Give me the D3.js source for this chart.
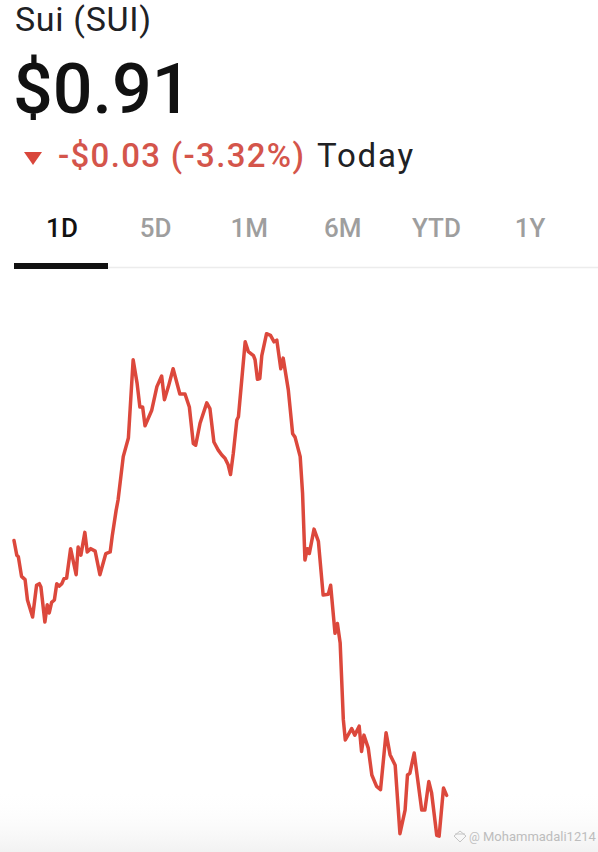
<!DOCTYPE html>
<html>
<head>
<meta charset="utf-8">
<script src="https://cdn.jsdelivr.net/npm/d3@7/dist/d3.min.js"></script>
<style>
  html, body { margin: 0; padding: 0; background: #ffffff; }
  svg { display: block; font-family: Roboto, "Noto Sans", Arial, sans-serif; }
</style>
</head>
<body>
<svg id="chart" width="598" height="852"></svg>
<script>
// ---- data ----
const title = "Sui (SUI)";
const priceLabel = "$0.91";
const changeLabel = "-$0.03 (-3.32%)";
const periodLabel = "Today";
const tabs = ["1D", "5D", "1M", "6M", "YTD", "1Y"];
const activeTab = "1D";
const watermark = "Mohammadali1214";

// minutes since start of the 1D window
const minutes = [0,7,11,19,28,34,47,57,64,68,78,84,89,95,102,108,114,121,126,133,
  143,157,162,169,179,185,194,205,217,232,243,248,258,263,276,289,301,311,318,325,
  331,348,361,373,380,390,402,419,432,443,453,459,470,487,495,505,516,525,533,541,
  547,554,563,567,584,592,605,609,615,621,626,638,648,657,664,674,680,693,704,710,
  723,729,735,741,746,758,769,781,794,800,811,817,824,832,837,853,861,872,878,884,
  895,904,916,926,940,950,963,975,988,994,1000,1011,1030,1038,1048,1055,1068,1074,1085,1093];
// price in USD
const prices = [0.9412,0.9394,0.9392,0.9368,0.9364,0.9339,0.9318,0.9357,0.9359,0.9355,
  0.9312,0.9333,0.9323,0.9336,0.9339,0.9359,0.9356,0.9359,0.9365,0.9366,
  0.9402,0.9370,0.9404,0.9394,0.9422,0.9398,0.9402,0.9399,0.9370,0.9396,
  0.9398,0.9417,0.9449,0.9462,0.9515,0.9538,0.9634,0.9605,0.9576,0.9576,
  0.9553,0.9572,0.9601,0.9614,0.9585,0.9601,0.9623,0.9592,0.9592,0.9576,
  0.9531,0.9529,0.9556,0.9581,0.9574,0.9533,0.9523,0.9517,0.9513,0.9505,
  0.9493,0.9519,0.9560,0.9564,0.9656,0.9644,0.9639,0.9634,0.9610,0.9611,
  0.9639,0.9666,0.9664,0.9656,0.9658,0.9623,0.9636,0.9597,0.9543,0.9539,
  0.9515,0.9470,0.9388,0.9402,0.9396,0.9426,0.9411,0.9345,0.9346,0.9357,
  0.9298,0.9310,0.9286,0.9192,0.9167,0.9181,0.9173,0.9184,0.9153,0.9173,
  0.9157,0.9124,0.9110,0.9106,0.9176,0.9149,0.9136,0.9052,0.9081,0.9124,
  0.9126,0.9151,0.9081,0.9081,0.9116,0.9102,0.9050,0.9049,0.9108,0.9099];

const timeDomain = [0, 1440];
const priceDomain = [0.90, 0.97];

// ---- drawing ----
const svg = d3.select("#chart");
const W = 598, H = 852;

svg.append("rect").attr("width", W).attr("height", H).attr("fill", "#ffffff");

// faint bottom shading
const defs = svg.append("defs");
const grad = defs.append("linearGradient").attr("id", "bottomShade")
  .attr("x1", 0).attr("y1", 0).attr("x2", 0).attr("y2", 1);
grad.append("stop").attr("offset", "0%").attr("stop-color", "#ffffff").attr("stop-opacity", 0);
grad.append("stop").attr("offset", "100%").attr("stop-color", "#f2f2f2").attr("stop-opacity", 1);
svg.append("rect").attr("x", 0).attr("y", 790).attr("width", W).attr("height", 62)
  .attr("fill", "url(#bottomShade)");

// header
svg.append("text").attr("x", 15).attr("y", 31)
  .attr("font-size", 34).attr("fill", "#202124")
  .attr("textLength", 136).attr("lengthAdjust", "spacing").text(title);

svg.append("text").attr("x", 13).attr("y", 113)
  .attr("font-size", 70).attr("font-weight", 500).attr("fill", "#111111").text(priceLabel);

svg.append("path").attr("d", "M24,152 L42,152 L33,165 Z").attr("fill", "#d9463b");

svg.append("text").attr("x", 58).attr("y", 167)
  .attr("font-size", 33).attr("font-weight", 500).attr("fill", "#d4554b")
  .attr("textLength", 246).attr("lengthAdjust", "spacing").text(changeLabel);
svg.append("text").attr("x", 317).attr("y", 167)
  .attr("font-size", 33).attr("fill", "#202124")
  .attr("textLength", 96).attr("lengthAdjust", "spacing").text(periodLabel);

// tabs
const tabCenters = d3.scalePoint().domain(tabs).range([62, 530]);
svg.append("g").selectAll("text").data(tabs).join("text")
  .attr("x", d => tabCenters(d)).attr("y", 237)
  .attr("text-anchor", "middle")
  .attr("font-size", 26).attr("font-weight", 500)
  .attr("fill", d => d === activeTab ? "#111111" : "#9e9e9e")
  .text(d => d);

svg.append("line").attr("x1", 108).attr("x2", W).attr("y1", 267.5).attr("y2", 267.5)
  .attr("stroke", "#ececec").attr("stroke-width", 1.5);
svg.append("rect").attr("x", 14).attr("y", 263).attr("width", 94).attr("height", 6)
  .attr("fill", "#111111");

// price line
const x = d3.scaleLinear().domain(timeDomain).range([14, 584]);
const y = d3.scaleLinear().domain(priceDomain).range([876, 306]);
const pts = minutes.map((m, i) => [m, prices[i]]);
const line = d3.line().x(d => x(d[0])).y(d => y(d[1]));
svg.append("path").datum(pts)
  .attr("d", line)
  .attr("fill", "none")
  .attr("stroke", "#dc483c")
  .attr("stroke-width", 3.5)
  .attr("stroke-linejoin", "round")
  .attr("stroke-linecap", "round");

// watermark
const wm = svg.append("g").attr("fill", "none").attr("stroke", "#c4c4c4").attr("stroke-width", 1);
wm.append("path").attr("d", "M454,836 L460,831 L466,836 L460,842 Z");
wm.append("path").attr("d", "M455,834 L465,834");
svg.append("text").attr("x", 469).attr("y", 841)
  .attr("font-size", 12).attr("fill", "#c0c0c0").text("@");
svg.append("text").attr("x", 483).attr("y", 841)
  .attr("font-size", 13).attr("fill", "#bdbdbd").text(watermark);
</script>
</body>
</html>
